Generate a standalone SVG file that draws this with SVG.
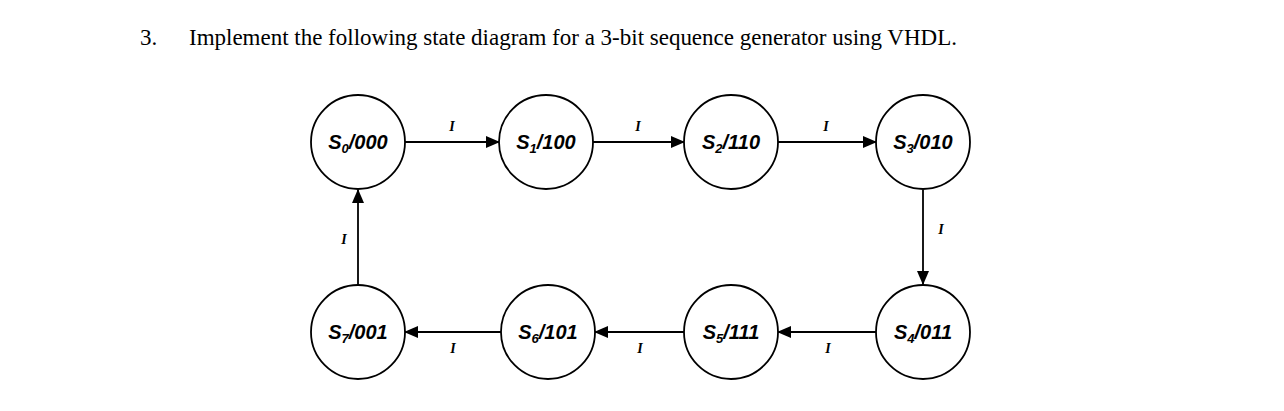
<svg xmlns="http://www.w3.org/2000/svg" width="1284" height="411" viewBox="0 0 1284 411">
<style>
.n{fill:#fff;stroke:#000;stroke-width:1.8}
.t{font-family:"Liberation Sans",sans-serif;font-weight:bold;font-style:italic;font-size:20px;text-anchor:middle}
.l{font-family:"Liberation Serif",serif;font-weight:bold;font-style:italic;font-size:14px;text-anchor:middle}
.e{stroke:#000;stroke-width:1.8;fill:none;marker-end:url(#a)}
</style>
<defs><marker id="a" markerWidth="14" markerHeight="12" refX="13" refY="6" orient="auto" markerUnits="userSpaceOnUse"><path d="M0,0L14,6L0,12z"/></marker></defs>
<rect width="1284" height="411" fill="#fff"/>
<text x="140" y="45" font-family="Liberation Serif,serif" font-size="23">3.</text>
<text x="189" y="45" font-family="Liberation Serif,serif" font-size="23" textLength="768" lengthAdjust="spacing">Implement the following state diagram for a 3-bit sequence generator using VHDL.</text>
<g id="connectors">
<line class="e" x1="405" y1="142" x2="499" y2="142"/>
<line class="e" x1="593" y1="142" x2="684" y2="142"/>
<line class="e" x1="778" y1="142" x2="876" y2="142"/>
<line class="e" x1="923" y1="190" x2="923" y2="284"/>
<line class="e" x1="876" y1="332" x2="778" y2="332"/>
<line class="e" x1="684" y1="332" x2="595" y2="332"/>
<line class="e" x1="501" y1="332" x2="405" y2="332"/>
<line class="e" x1="358" y1="284" x2="358" y2="190"/>
<text class="l" x="452" y="131">I</text>
<text class="l" x="638" y="131">I</text>
<text class="l" x="826" y="131">I</text>
<text class="l" x="941" y="234">I</text>
<text class="l" x="344" y="244">I</text>
<text class="l" x="453" y="353">I</text>
<text class="l" x="640" y="353">I</text>
<text class="l" x="828" y="353">I</text>
</g>
<g id="s0"><circle class="n" cx="358" cy="142" r="47"/><text class="t" x="358" y="149">S<tspan font-size="13" dy="4">0</tspan><tspan dy="-4">/000</tspan></text></g>
<g id="s1"><circle class="n" cx="546" cy="142" r="47"/><text class="t" x="546" y="149">S<tspan font-size="13" dy="4">1</tspan><tspan dy="-4">/100</tspan></text></g>
<g id="s2"><circle class="n" cx="731" cy="142" r="47"/><text class="t" x="731" y="149">S<tspan font-size="13" dy="4">2</tspan><tspan dy="-4">/110</tspan></text></g>
<g id="s3"><circle class="n" cx="923" cy="142" r="47"/><text class="t" x="923" y="149">S<tspan font-size="13" dy="4">3</tspan><tspan dy="-4">/010</tspan></text></g>
<g id="s4"><circle class="n" cx="923" cy="332" r="47"/><text class="t" x="923" y="339">S<tspan font-size="13" dy="4">4</tspan><tspan dy="-4">/011</tspan></text></g>
<g id="s5"><circle class="n" cx="731" cy="332" r="47"/><text class="t" x="731" y="339">S<tspan font-size="13" dy="4">5</tspan><tspan dy="-4">/111</tspan></text></g>
<g id="s6"><circle class="n" cx="548" cy="332" r="47"/><text class="t" x="548" y="339">S<tspan font-size="13" dy="4">6</tspan><tspan dy="-4">/101</tspan></text></g>
<g id="s7"><circle class="n" cx="358" cy="332" r="47"/><text class="t" x="358" y="339">S<tspan font-size="13" dy="4">7</tspan><tspan dy="-4">/001</tspan></text></g>
</svg>
